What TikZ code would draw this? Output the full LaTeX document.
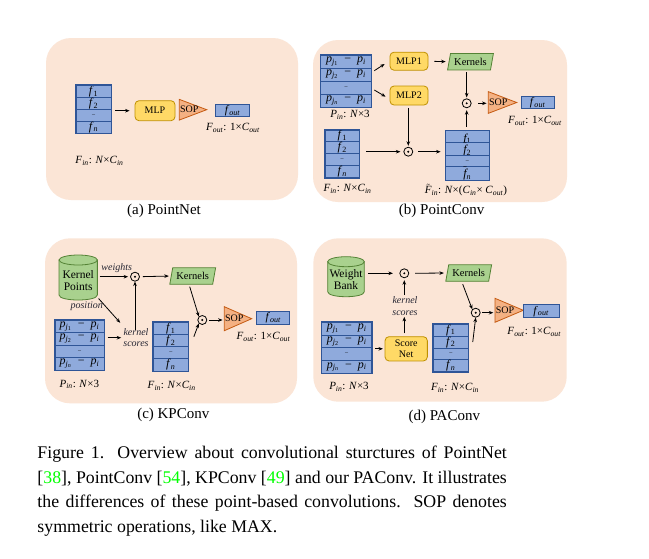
\documentclass[tikz,border=0pt]{standalone}
\usepackage{fontspec}
\setmainfont{Liberation Serif}
\usetikzlibrary{arrows.meta,shapes.geometric,fit,calc}
\definecolor{peach}{HTML}{FBE5D6}
\definecolor{bfill}{HTML}{8FAADC}
\definecolor{bline}{HTML}{2F5597}
\definecolor{yfill}{HTML}{FFD966}
\definecolor{yline}{HTML}{BF9000}
\definecolor{gfill}{HTML}{A9D18E}
\definecolor{gline}{HTML}{548235}
\definecolor{ofill}{HTML}{F4B183}
\definecolor{oline}{HTML}{C55A11}
\definecolor{lbl}{HTML}{262633}
\definecolor{citegreen}{rgb}{0,1,0}
\tikzset{
  panel/.style={fill=peach, draw=none, rounded corners=25},
  cell/.style={draw=bline, fill=bfill, line width=0.9, inner sep=0, font=\fontsize{12}{12}\selectfont},
  stackframe/.style={draw=bline, line width=1.2, inner sep=0},
  mlpbox/.style={draw=yline, fill=yfill, line width=0.8, rounded corners=4, inner sep=0, font=\fontsize{10}{11.5}\selectfont},
  kern/.style={trapezium, trapezium left angle=72, trapezium right angle=108, trapezium stretches=true,
     draw=gline, fill=gfill, line width=0.8, inner sep=0, minimum width=46, minimum height=16.5, font=\fontsize{10.5}{11}\selectfont},
  cylbody/.style={draw=gline, fill=gfill, line width=0.8},
  soptri/.style={draw=oline, fill=ofill, line width=0.8},
  odot/.style={circle, draw=black, line width=0.8, minimum size=9, inner sep=0,
     path picture={\fill[black] (path picture bounding box.center) circle[radius=1.1];}},
  outbox/.style={draw=bline, fill=bfill, line width=1.0, inner sep=0, font=\fontsize{11.5}{11.5}\selectfont},
  arr/.style={-{Stealth[length=4.5pt,width=3.6pt]}, line width=0.8, black},
  mathlbl/.style={font=\fontsize{11}{12}\selectfont, inner sep=0},
  itlbl/.style={font=\fontsize{10}{11}\itshape, text=lbl, inner sep=0, align=center},
  subcap/.style={font=\fontsize{15}{16}\selectfont, inner sep=0}
}
\newcommand{\vi}[1]{\textit{#1}}
\newcommand{\sbs}[1]{\textsubscript{#1}}
\newcommand{\Fin}{\vi{F}\sbs{\vi{in}}: \vi{N}×\vi{C}\sbs{\vi{in}}}
\newcommand{\Fout}{\vi{F}\sbs{\vi{out}}: 1×\vi{C}\sbs{\vi{out}}}
\newcommand{\Pin}{\vi{P}\sbs{\vi{in}}: \vi{N}×3}
\newcommand{\fo}{\vi{f}\sbs{\vi{out}}}
\newcommand{\fr}[1]{\vi{f}\sbs{#1}}
\newcommand{\ftl}[1]{$\tilde{\textit{f}}$\sbs{#1}}
\newcommand{\pj}[1]{\vi{p}\sbs{\vi{j}\sbs{#1}}\enspace−\enspace\vi{p}\sbs{\vi{i}}}
\newcommand{\dsh}{{\fontsize{6}{6}\selectfont --}}
% stack: name, cx, ytop, width, rowh, texts
\newcommand{\mkstack}[9]{%
  \node[cell, minimum width=#4, minimum height=#5] (#1-1) at (#2, {#3+0.5*#5}) {#6};
  \node[cell, minimum width=#4, minimum height=#5] (#1-2) at (#2, {#3+1.5*#5}) {#7};
  \node[cell, minimum width=#4, minimum height=#5] (#1-3) at (#2, {#3+2.5*#5}) {#8};
  \node[cell, minimum width=#4, minimum height=#5] (#1-4) at (#2, {#3+3.5*#5}) {#9};
  \node[stackframe, fit=(#1-1)(#1-4)] (#1) {};
}
% sop: name, xleft, ycenter, w, h
\newcommand{\mksop}[5]{%
  \draw[soptri] (#2, {#3-0.5*#5}) -- ({#2+#4}, #3) -- (#2, {#3+0.5*#5}) -- cycle;
  \node[minimum width=#4, minimum height=#5, inner sep=0] (#1) at ({#2+0.5*#4}, #3) {};
  \node[inner sep=0, font=\fontsize{10}{10}\selectfont] at ({#2+10}, #3) {SOP};
}
% cylinder: name, cx, ytop, w, h, text
\newcommand{\mkcyl}[6]{%
  \draw[cylbody] ({#2-0.5*#4}, {#3+5}) -- ({#2-0.5*#4}, {#3+#5-5})
     .. controls ({#2-0.5*#4}, {#3+#5+1.67}) and ({#2+0.5*#4}, {#3+#5+1.67}) .. ({#2+0.5*#4}, {#3+#5-5})
     -- ({#2+0.5*#4}, {#3+5}) -- cycle;
  \draw[cylbody] (#2, {#3+5}) ellipse[x radius={0.5*#4}, y radius=5];
  \node[minimum width=#4, minimum height=#5, inner sep=0] (#1) at (#2, {#3+0.5*#5}) {};
  \node[inner sep=0, align=center, font=\fontsize{11.5}{12.5}\selectfont] at (#2, {#3+0.5*#5+3}) {#6};
}
\newcommand{\jline}[1]{\makebox[469.4pt][s]{#1}}
\begin{document}
\begin{tikzpicture}[x=1pt, y=-1pt]
\useasboundingbox (0,0) rectangle (649,558);
\fill[white] (0,0) rectangle (649,558);

% ================= (a) PointNet =================
\fill[panel] (46,38) rectangle (298,200);
\mkstack{astk}{93.5}{85.5}{35}{11.9}{\fr1}{\fr2}{\dsh}{\fr{\vi{n}}}
\node[mlpbox, minimum width=40, minimum height=20] (mlpa) at (155,110.7) {MLP};
\mksop{sopa}{179.3}{109.7}{27.4}{20.7}
\node[outbox, minimum width=33.6, minimum height=11.7] (fouta) at (232.5,110.8) {\fo};
\node[mathlbl] (fouta-l) at (233,127.7) {\Fout};
\node[mathlbl] (fina-l) at (99.5,161) {\Fin};
\draw[arr, shorten <=3, shorten >=5] (astk.east |- mlpa.west) -- (mlpa.west);
\node[subcap] (capa) at (164,210.7) {(a) PointNet};

% ================= (b) PointConv =================
\fill[panel] (313,40) rectangle (567,202);
\mkstack{bpin}{346}{55}{50.5}{13}{\pj1}{\pj2}{\dsh}{\pj{\vi{n}}}
\node[mathlbl] (bpin-l) at (350,115) {\Pin};
\node[mlpbox, minimum width=38, minimum height=18] (mlp1) at (409,61.2) {MLP1};
\node[mlpbox, minimum width=38, minimum height=19] (mlp2) at (409,95.5) {MLP2};
\node[kern] (kb) at (470.5,61.7) {Kernels};
\node[odot] (bo1) at (466.7,103.3) {};
\mksop{sopb}{488.3}{102.5}{28.4}{21.7}
\node[outbox, minimum width=33.3, minimum height=11.6] (foutb) at (537.7,102.5) {\fo};
\node[mathlbl] (foutb-l) at (535,121) {\Fout};
\mkstack{bfin}{342.2}{130}{34.3}{11.9}{\fr1}{\fr2}{\dsh}{\fr{\vi{n}}}
\node[mathlbl] (bfin-l) at (347.5,189) {\Fin};
\node[odot] (bo2) at (408.3,151.7) {};
\mkstack{bft}{467.3}{131.7}{43.3}{11.9}{\ftl1}{\ftl2}{\dsh}{\ftl{\vi{n}}}
\node[mathlbl] (bft-l) at (466,190) {$\tilde{\textit{F}}$\sbs{\vi{in}}: \vi{N}×(\vi{C}\sbs{\vi{in}}× \vi{C}\sbs{\vi{out}})};
\draw[arr] ([shift={(2,-10.3)}]bpin.east) -- ([shift={(-5,2.8)}]mlp1.west);
\draw[arr] ([shift={(2,9)}]bpin.east) -- ([shift={(-4,1.2)}]mlp2.west);
\draw[arr, shorten <=6, shorten >=3] (mlp1.east) -- (kb.west);
\draw[arr, shorten <=2, shorten >=1] (kb.south -| bo1) -- (bo1.north);
\draw[arr, shorten <=3, shorten >=2] (bft.north -| bo1) -- (bo1.south);
\draw[arr, shorten <=6.5, shorten >=1.5] (bo1.east) -- (sopb.west |- bo1);
\draw[arr, shorten <=2.5, shorten >=1] (mlp2.south -| bo2) -- (bo2.north);
\draw[arr, shorten <=6, shorten >=3] (bfin.east |- bo2) -- (bo2.west);
\draw[arr, shorten <=5, shorten >=4] (bo2.east) -- (bft.west |- bo2);
\node[subcap] (capb) at (441.7,210.7) {(b) PointConv};

% ================= (c) KPConv =================
\fill[panel] (45,238.3) rectangle (297,403.3);
\mkcyl{ccyl}{78.2}{255}{38.3}{45}{Kernel\\Points}
\node[itlbl] (cw) at (116.7,268.3) {weights};
\node[odot] (co1) at (135,276.7) {};
\node[kern] (kc) at (192.7,276) {Kernels};
\node[itlbl] (cpos) at (86.7,306.7) {position};
\node[itlbl, font=\fontsize{10}{11}\itshape] (cks) at (136,338) {kernel\\scores};
\mkstack{cpin}{79.5}{320}{49}{12.5}{\pj1}{\pj2}{\dsh}{\pj{\vi{n}}}
\node[mathlbl] (cpin-l) at (79.3,384.3) {\Pin};
\mkstack{cfin}{170.8}{322.3}{35}{12.2}{\fr1}{\fr2}{\dsh}{\fr{\vi{n}}}
\node[mathlbl] (cfin-l) at (171.7,385.7) {\Fin};
\node[odot] (co2) at (202.3,320) {};
\mksop{sopc}{224.3}{318.7}{27.4}{24}
\node[outbox, minimum width=33.3, minimum height=12.6] (foutc) at (273.3,318) {\fo};
\node[mathlbl] (foutc-l) at (263.5,336.7) {\Fout};
\draw[arr, shorten <=2, shorten >=2] (ccyl.east |- co1) -- (co1.west);
\draw[arr, shorten <=3, shorten >=2] (co1.east) -- (kc.west);
\draw[arr] ([shift={(1,-1.7)}]ccyl.south east) -- ([shift={(-3,-6)}]cks.north west);
\draw[arr] ([yshift=-1.5]cks.north -| co1) -- (co1.south);
\draw[arr, shorten <=2.5, shorten >=2] (cpin.east |- 0,337.7) -- (cks.west |- 0,337.7);
\draw[arr] ([shift={(-3,2)}]kc.south) -- (co2.north west);
\draw[arr] ([shift={(4.5,-10)}]cfin.east) -- (co2.south west);
\draw[arr, shorten <=2, shorten >=1.5] (co2.east) -- (sopc.west |- co2);
\node[subcap] (capc) at (173.3,415) {(c) KPConv};

% ================= (d) PAConv =================
\fill[panel] (313.3,238.3) rectangle (566.7,401.7);
\mkcyl{dcyl}{346}{256.7}{36.6}{40}{Weight\\Bank}
\node[odot] (do1) at (404.3,273.3) {};
\node[kern] (kd) at (468.7,273) {Kernels};
\node[itlbl, font=\fontsize{10}{12.3}\itshape] (dks) at (405,306) {kernel\\scores};
\node[mlpbox, minimum width=42.3, minimum height=24.3, align=center, font=\fontsize{10}{11.5}\selectfont] (snet) at (406.2,348.8) {Score\\Net};
\mkstack{dpin}{346.7}{322.3}{50}{12.75}{\pj1}{\pj2}{\dsh}{\pj{\vi{n}}}
\node[mathlbl] (dpin-l) at (349,386.7) {\Pin};
\mkstack{dfin}{450.8}{324.3}{35}{11.85}{\fr1}{\fr2}{\dsh}{\fr{\vi{n}}}
\node[mathlbl] (dfin-l) at (455,387.7) {\Fin};
\node[odot] (do2) at (475.7,312.7) {};
\mksop{sopd}{495}{310.3}{28.3}{24}
\node[outbox, minimum width=35.7, minimum height=12.7] (foutd) at (541.2,311.3) {\fo};
\node[mathlbl] (foutd-l) at (534.3,331.7) {\Fout};
\draw[arr, shorten <=3.4, shorten >=6.5] (dcyl.east |- do1) -- (do1.west);
\draw[arr, shorten <=6, shorten >=3] (do1.east) -- (kd.west);
\draw[arr, shorten <=1.5, shorten >=2] (dks.north -| do1) -- (do1.south);
\draw[arr, shorten <=3, shorten >=1] (snet.north -| do1) -- (dks.south -| do1);
\draw[arr, shorten <=2.5, shorten >=1.7] (dpin.east |- snet) -- (snet.west);
\draw[arr] ([shift={(-6,2.5)}]kd.south) -- (do2.north west);
\draw[arr] ([shift={(3.4,-6)}]dfin.east) -- (do2.south);
\draw[arr, shorten <=1.5, shorten >=1.5] (do2.east) -- (sopd.west |- do2);
\node[subcap] (capd) at (444.3,416.7) {(d) PAConv};

% ================= figure caption =================
\node[anchor=north west, inner sep=0, align=left,
      font=\fontsize{17.8}{24.4}\selectfont] (figcap) at (37.3,441.6)
  {\strut\jline{Figure 1. Overview about convolutional sturctures of PointNet}\\
   \jline{[\textcolor{citegreen}{38}], PointConv [\textcolor{citegreen}{54}], KPConv [\textcolor{citegreen}{49}] and our PAConv. It illustrates}\\
   \jline{the differences of these point-based convolutions.\ \ SOP denotes}\\
   symmetric operations, like MAX.};
\end{tikzpicture}
\end{document}
